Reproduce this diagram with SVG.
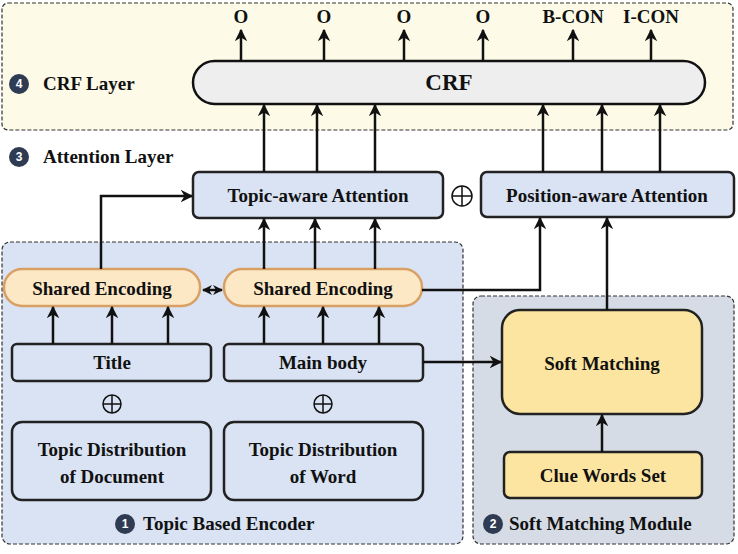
<svg xmlns="http://www.w3.org/2000/svg" width="738" height="554" viewBox="0 0 738 554">
<style>
text{font-family:"Liberation Serif","Times New Roman",serif;font-weight:bold;fill:#111;text-anchor:middle}
.t{font-size:19px}
.lbl{font-size:19px;text-anchor:start}
.box{fill:#dae3f3;stroke:#222;stroke-width:2.5}
.se{fill:#fde8c5;stroke:#d9a066;stroke-width:2.5}
.ym{fill:#fce5a0;stroke:#222;stroke-width:2.5}
.ln path{fill:none;stroke:#111;stroke-width:2.5;marker-end:url(#a)}
.num{fill:#2f3b52}
.nt{fill:#fff;font-size:12px;font-family:"Liberation Sans",Arial,sans-serif}
.op{fill:none;stroke:#111;stroke-width:1.5}
</style>
<defs><marker id="a" viewBox="0 0 10 10" refX="9" refY="5" markerWidth="5" markerHeight="5" orient="auto-start-reverse"><path d="M0,0 L10,5 L0,10 L3,5 z" fill="#111"/></marker>
<marker id="b" viewBox="0 0 10 10" refX="9" refY="5" markerWidth="4" markerHeight="4" orient="auto-start-reverse"><path d="M0,0 L10,5 L0,10 L3,5 z" fill="#111"/></marker></defs>
<g id="panels">
<rect x="2" y="3" width="731" height="127" rx="6" fill="#fdfbe7" stroke="#333" stroke-width="1.2" stroke-dasharray="4,2"/>
<rect x="2" y="242" width="461" height="302" rx="8" fill="#dae3f3" stroke="#333" stroke-width="1.2" stroke-dasharray="4,2"/>
<rect x="473" y="296" width="261" height="248" rx="8" fill="#d6dce5" stroke="#333" stroke-width="1.2" stroke-dasharray="4,2"/>
</g>
<g id="labels">
<circle class="num" cx="19" cy="84" r="10"/><text class="nt" x="19" y="88">4</text><text class="lbl" x="43" y="90">CRF Layer</text>
<circle class="num" cx="19" cy="157" r="10"/><text class="nt" x="19" y="161">3</text><text class="lbl" x="43" y="163">Attention Layer</text>
<circle class="num" cx="125" cy="524" r="10"/><text class="nt" x="125" y="528">1</text><text class="lbl" x="143" y="530">Topic Based Encoder</text>
<circle class="num" cx="493" cy="524" r="10"/><text class="nt" x="493" y="528">2</text><text class="lbl" x="509" y="530">Soft Matching Module</text>
</g>
<g id="outputs" class="t">
<text x="241" y="23">O</text><text x="324" y="23">O</text><text x="404" y="23">O</text><text x="483" y="23">O</text><text x="573" y="23">B-CON</text><text x="651" y="23">I-CON</text>
</g>
<g id="crf"><rect x="193" y="61" width="512" height="43" rx="21.5" fill="#eeeeee" stroke="#111" stroke-width="2.5"/><text x="449" y="90" font-size="23">CRF</text></g>
<g id="topic-att"><rect class="box" x="193" y="172" width="250" height="46" rx="6"/><text class="t" x="318" y="202">Topic-aware Attention</text></g>
<g id="pos-att"><rect class="box" x="481" y="172" width="253" height="45" rx="6"/><text class="t" x="607" y="202">Position-aware Attention</text></g>
<g id="se1"><rect class="se" x="4" y="269" width="196" height="37" rx="18"/><text class="t" x="102" y="295">Shared Encoding</text></g>
<g id="se2"><rect class="se" x="224" y="269" width="198" height="37" rx="18"/><text class="t" x="323" y="295">Shared Encoding</text></g>
<g id="title"><rect class="box" x="12" y="344" width="199" height="37" rx="5"/><text class="t" x="112" y="369">Title</text></g>
<g id="mainbody"><rect class="box" x="224" y="344" width="199" height="37" rx="5"/><text class="t" x="323" y="369">Main body</text></g>
<g id="tdd"><rect class="box" x="12" y="422" width="199" height="78" rx="10"/><text class="t" x="112" y="456">Topic Distribution</text><text class="t" x="112" y="483">of Document</text></g>
<g id="tdw"><rect class="box" x="224" y="422" width="199" height="78" rx="10"/><text class="t" x="323" y="456">Topic Distribution</text><text class="t" x="323" y="483">of Word</text></g>
<g id="softmatch"><rect class="ym" x="502" y="310" width="200" height="104" rx="18"/><text class="t" x="602" y="370">Soft Matching</text></g>
<g id="clue"><rect class="ym" x="504" y="452" width="198" height="46" rx="6"/><text class="t" x="603" y="482">Clue Words Set</text></g>
<g id="ops">
<circle class="op" cx="462" cy="196" r="10"/><path class="op" d="M452,196H472M462,186V206"/>
<circle class="op" cx="112" cy="404" r="9"/><path class="op" d="M103,404H121M112,395V413"/>
<circle class="op" cx="323" cy="404" r="9"/><path class="op" d="M314,404H332M323,395V413"/>
</g>
<g id="connectors" class="ln">
<path d="M241,61V30"/><path d="M324,61V30"/><path d="M404,61V30"/><path d="M483,61V30"/><path d="M573,61V30"/><path d="M651,61V30"/>
<path d="M264,172V105"/><path d="M317,172V105"/><path d="M375,172V105"/><path d="M543,172V105"/><path d="M602,172V105"/><path d="M660,172V105"/>
<path d="M264,269V219"/><path d="M315,269V219"/><path d="M375,269V219"/>
<path d="M101,269V196H192"/>
<path d="M422,290H540V218"/>
<path d="M607,310V218"/>
<path style="marker-start:url(#b);marker-end:url(#b)" stroke-width="1.6" d="M203,290H222"/>
<path d="M53,344V307"/><path d="M112,344V307"/><path d="M168,344V307"/><path d="M264,344V307"/><path d="M323,344V307"/><path d="M379,344V307"/>
<path d="M423,362H501"/>
<path d="M602,452V415"/>
</g>
</svg>
